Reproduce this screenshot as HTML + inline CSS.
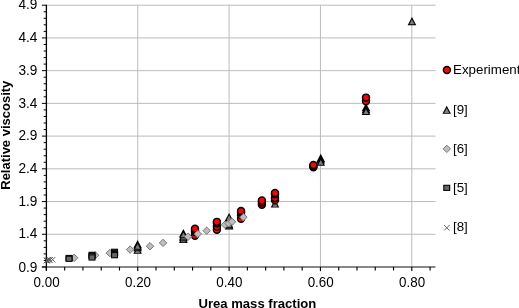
<!DOCTYPE html><html><head><meta charset="utf-8"><title>chart</title>
<style>html,body{margin:0;padding:0;background:#fff;overflow:hidden;width:519px;height:308px}svg{display:block}text{font-family:"Liberation Sans",sans-serif;fill:#000}</style></head><body>
<svg width="519" height="308" viewBox="0 0 519 308">
<rect width="519" height="308" fill="#fff"/>
<line x1="46.4" x2="435.5" y1="5.20" y2="5.20" stroke="#bcbcbc" stroke-width="1"/>
<line x1="46.4" x2="435.5" y1="37.93" y2="37.93" stroke="#bcbcbc" stroke-width="1"/>
<line x1="46.4" x2="435.5" y1="70.65" y2="70.65" stroke="#bcbcbc" stroke-width="1"/>
<line x1="46.4" x2="435.5" y1="103.38" y2="103.38" stroke="#bcbcbc" stroke-width="1"/>
<line x1="46.4" x2="435.5" y1="136.10" y2="136.10" stroke="#bcbcbc" stroke-width="1"/>
<line x1="46.4" x2="435.5" y1="168.82" y2="168.82" stroke="#bcbcbc" stroke-width="1"/>
<line x1="46.4" x2="435.5" y1="201.55" y2="201.55" stroke="#bcbcbc" stroke-width="1"/>
<line x1="46.4" x2="435.5" y1="234.28" y2="234.28" stroke="#bcbcbc" stroke-width="1"/>
<line x1="137.75" x2="137.75" y1="5.2" y2="267.0" stroke="#bcbcbc" stroke-width="1"/>
<line x1="229.10" x2="229.10" y1="5.2" y2="267.0" stroke="#bcbcbc" stroke-width="1"/>
<line x1="320.45" x2="320.45" y1="5.2" y2="267.0" stroke="#bcbcbc" stroke-width="1"/>
<line x1="411.80" x2="411.80" y1="5.2" y2="267.0" stroke="#bcbcbc" stroke-width="1"/>
<line x1="46.4" x2="46.4" y1="4.7" y2="270.5" stroke="#000" stroke-width="1.3"/>
<line x1="41.9" x2="435.5" y1="267.0" y2="267.0" stroke="#111" stroke-width="1.1"/>
<line x1="41.9" x2="46.4" y1="5.20" y2="5.20" stroke="#000" stroke-width="1"/>
<line x1="43.699999999999996" x2="46.4" y1="11.75" y2="11.75" stroke="#000" stroke-width="1"/>
<line x1="43.699999999999996" x2="46.4" y1="18.29" y2="18.29" stroke="#000" stroke-width="1"/>
<line x1="43.699999999999996" x2="46.4" y1="24.84" y2="24.84" stroke="#000" stroke-width="1"/>
<line x1="43.699999999999996" x2="46.4" y1="31.38" y2="31.38" stroke="#000" stroke-width="1"/>
<line x1="41.9" x2="46.4" y1="37.93" y2="37.93" stroke="#000" stroke-width="1"/>
<line x1="43.699999999999996" x2="46.4" y1="44.47" y2="44.47" stroke="#000" stroke-width="1"/>
<line x1="43.699999999999996" x2="46.4" y1="51.02" y2="51.02" stroke="#000" stroke-width="1"/>
<line x1="43.699999999999996" x2="46.4" y1="57.56" y2="57.56" stroke="#000" stroke-width="1"/>
<line x1="43.699999999999996" x2="46.4" y1="64.11" y2="64.11" stroke="#000" stroke-width="1"/>
<line x1="41.9" x2="46.4" y1="70.65" y2="70.65" stroke="#000" stroke-width="1"/>
<line x1="43.699999999999996" x2="46.4" y1="77.20" y2="77.20" stroke="#000" stroke-width="1"/>
<line x1="43.699999999999996" x2="46.4" y1="83.74" y2="83.74" stroke="#000" stroke-width="1"/>
<line x1="43.699999999999996" x2="46.4" y1="90.29" y2="90.29" stroke="#000" stroke-width="1"/>
<line x1="43.699999999999996" x2="46.4" y1="96.83" y2="96.83" stroke="#000" stroke-width="1"/>
<line x1="41.9" x2="46.4" y1="103.38" y2="103.38" stroke="#000" stroke-width="1"/>
<line x1="43.699999999999996" x2="46.4" y1="109.92" y2="109.92" stroke="#000" stroke-width="1"/>
<line x1="43.699999999999996" x2="46.4" y1="116.47" y2="116.47" stroke="#000" stroke-width="1"/>
<line x1="43.699999999999996" x2="46.4" y1="123.01" y2="123.01" stroke="#000" stroke-width="1"/>
<line x1="43.699999999999996" x2="46.4" y1="129.55" y2="129.55" stroke="#000" stroke-width="1"/>
<line x1="41.9" x2="46.4" y1="136.10" y2="136.10" stroke="#000" stroke-width="1"/>
<line x1="43.699999999999996" x2="46.4" y1="142.64" y2="142.64" stroke="#000" stroke-width="1"/>
<line x1="43.699999999999996" x2="46.4" y1="149.19" y2="149.19" stroke="#000" stroke-width="1"/>
<line x1="43.699999999999996" x2="46.4" y1="155.74" y2="155.74" stroke="#000" stroke-width="1"/>
<line x1="43.699999999999996" x2="46.4" y1="162.28" y2="162.28" stroke="#000" stroke-width="1"/>
<line x1="41.9" x2="46.4" y1="168.82" y2="168.82" stroke="#000" stroke-width="1"/>
<line x1="43.699999999999996" x2="46.4" y1="175.37" y2="175.37" stroke="#000" stroke-width="1"/>
<line x1="43.699999999999996" x2="46.4" y1="181.91" y2="181.91" stroke="#000" stroke-width="1"/>
<line x1="43.699999999999996" x2="46.4" y1="188.46" y2="188.46" stroke="#000" stroke-width="1"/>
<line x1="43.699999999999996" x2="46.4" y1="195.00" y2="195.00" stroke="#000" stroke-width="1"/>
<line x1="41.9" x2="46.4" y1="201.55" y2="201.55" stroke="#000" stroke-width="1"/>
<line x1="43.699999999999996" x2="46.4" y1="208.09" y2="208.09" stroke="#000" stroke-width="1"/>
<line x1="43.699999999999996" x2="46.4" y1="214.64" y2="214.64" stroke="#000" stroke-width="1"/>
<line x1="43.699999999999996" x2="46.4" y1="221.18" y2="221.18" stroke="#000" stroke-width="1"/>
<line x1="43.699999999999996" x2="46.4" y1="227.73" y2="227.73" stroke="#000" stroke-width="1"/>
<line x1="41.9" x2="46.4" y1="234.27" y2="234.27" stroke="#000" stroke-width="1"/>
<line x1="43.699999999999996" x2="46.4" y1="240.82" y2="240.82" stroke="#000" stroke-width="1"/>
<line x1="43.699999999999996" x2="46.4" y1="247.37" y2="247.37" stroke="#000" stroke-width="1"/>
<line x1="43.699999999999996" x2="46.4" y1="253.91" y2="253.91" stroke="#000" stroke-width="1"/>
<line x1="43.699999999999996" x2="46.4" y1="260.46" y2="260.46" stroke="#000" stroke-width="1"/>
<line x1="41.9" x2="46.4" y1="267.00" y2="267.00" stroke="#000" stroke-width="1"/>
<line x1="46.40" x2="46.40" y1="267.0" y2="271.1" stroke="#000" stroke-width="1.15"/>
<line x1="64.67" x2="64.67" y1="267.0" y2="270.5" stroke="#000" stroke-width="1.15"/>
<line x1="82.94" x2="82.94" y1="267.0" y2="270.5" stroke="#000" stroke-width="1.15"/>
<line x1="101.21" x2="101.21" y1="267.0" y2="270.5" stroke="#000" stroke-width="1.15"/>
<line x1="119.48" x2="119.48" y1="267.0" y2="270.5" stroke="#000" stroke-width="1.15"/>
<line x1="137.75" x2="137.75" y1="267.0" y2="271.1" stroke="#000" stroke-width="1.15"/>
<line x1="156.02" x2="156.02" y1="267.0" y2="270.5" stroke="#000" stroke-width="1.15"/>
<line x1="174.29" x2="174.29" y1="267.0" y2="270.5" stroke="#000" stroke-width="1.15"/>
<line x1="192.56" x2="192.56" y1="267.0" y2="270.5" stroke="#000" stroke-width="1.15"/>
<line x1="210.83" x2="210.83" y1="267.0" y2="270.5" stroke="#000" stroke-width="1.15"/>
<line x1="229.10" x2="229.10" y1="267.0" y2="271.1" stroke="#000" stroke-width="1.15"/>
<line x1="247.37" x2="247.37" y1="267.0" y2="270.5" stroke="#000" stroke-width="1.15"/>
<line x1="265.64" x2="265.64" y1="267.0" y2="270.5" stroke="#000" stroke-width="1.15"/>
<line x1="283.91" x2="283.91" y1="267.0" y2="270.5" stroke="#000" stroke-width="1.15"/>
<line x1="302.18" x2="302.18" y1="267.0" y2="270.5" stroke="#000" stroke-width="1.15"/>
<line x1="320.45" x2="320.45" y1="267.0" y2="271.1" stroke="#000" stroke-width="1.15"/>
<line x1="338.72" x2="338.72" y1="267.0" y2="270.5" stroke="#000" stroke-width="1.15"/>
<line x1="356.99" x2="356.99" y1="267.0" y2="270.5" stroke="#000" stroke-width="1.15"/>
<line x1="375.26" x2="375.26" y1="267.0" y2="270.5" stroke="#000" stroke-width="1.15"/>
<line x1="393.53" x2="393.53" y1="267.0" y2="270.5" stroke="#000" stroke-width="1.15"/>
<line x1="411.80" x2="411.80" y1="267.0" y2="271.1" stroke="#000" stroke-width="1.15"/>
<line x1="430.07" x2="430.07" y1="267.0" y2="270.5" stroke="#000" stroke-width="1.15"/>
<text transform="translate(37.4,9.45) scale(0.96,1)" font-size="14.2" text-anchor="end">4.9</text>
<text transform="translate(37.4,41.98) scale(0.96,1)" font-size="14.2" text-anchor="end">4.4</text>
<text transform="translate(37.4,75.25) scale(0.96,1)" font-size="14.2" text-anchor="end">3.9</text>
<text transform="translate(37.4,107.75) scale(0.96,1)" font-size="14.2" text-anchor="end">3.4</text>
<text transform="translate(37.4,140.10) scale(0.96,1)" font-size="14.2" text-anchor="end">2.9</text>
<text transform="translate(37.4,173.36) scale(0.96,1)" font-size="14.2" text-anchor="end">2.4</text>
<text transform="translate(37.4,206.10) scale(0.96,1)" font-size="14.2" text-anchor="end">1.9</text>
<text transform="translate(37.4,238.41) scale(0.96,1)" font-size="14.2" text-anchor="end">1.4</text>
<text transform="translate(37.4,271.70) scale(0.96,1)" font-size="14.2" text-anchor="end">0.9</text>
<text transform="translate(46.65,286.65) scale(0.975,1)" font-size="13.75" text-anchor="middle">0.00</text>
<text transform="translate(138.00,286.65) scale(0.975,1)" font-size="13.75" text-anchor="middle">0.20</text>
<text transform="translate(229.35,286.65) scale(0.975,1)" font-size="13.75" text-anchor="middle">0.40</text>
<text transform="translate(320.70,286.65) scale(0.975,1)" font-size="13.75" text-anchor="middle">0.60</text>
<text transform="translate(412.05,286.65) scale(0.975,1)" font-size="13.75" text-anchor="middle">0.80</text>
<text x="257.4" y="307.5" font-size="13.1" font-weight="bold" text-anchor="middle">Urea mass fraction</text>
<text transform="translate(9.7,135.2) rotate(-90)" font-size="13" font-weight="bold" text-anchor="middle">Relative viscosity</text>
<path d="M137.60 245.70L141.90 253.80L133.30 253.80Z" fill="#000"/><path d="M137.60 248.06L140.17 252.90L135.03 252.90Z" fill="#7c7c7c"/>
<path d="M137.60 243.15L141.90 251.25L133.30 251.25Z" fill="#000"/><path d="M137.60 245.51L140.17 250.35L135.03 250.35Z" fill="#7c7c7c"/>
<path d="M137.60 240.05L141.90 248.15L133.30 248.15Z" fill="#000"/><path d="M137.60 242.41L140.17 247.25L135.03 247.25Z" fill="#7c7c7c"/>
<path d="M137.60 241.60L141.90 249.70L133.30 249.70Z" fill="#000"/><path d="M137.60 243.96L140.17 248.80L135.03 248.80Z" fill="#7c7c7c"/>
<path d="M183.40 234.95L187.70 243.05L179.10 243.05Z" fill="#000"/><path d="M183.40 237.31L185.97 242.15L180.83 242.15Z" fill="#7c7c7c"/>
<path d="M183.40 233.25L187.70 241.35L179.10 241.35Z" fill="#000"/><path d="M183.40 235.61L185.97 240.45L180.83 240.45Z" fill="#7c7c7c"/>
<path d="M183.40 232.20L187.70 240.30L179.10 240.30Z" fill="#000"/><path d="M183.40 234.56L185.97 239.40L180.83 239.40Z" fill="#7c7c7c"/>
<path d="M183.40 229.05L187.70 237.15L179.10 237.15Z" fill="#000"/><path d="M183.40 231.41L185.97 236.25L180.83 236.25Z" fill="#7c7c7c"/>
<path d="M183.40 230.05L187.70 238.15L179.10 238.15Z" fill="#000"/><path d="M183.40 232.41L185.97 237.25L180.83 237.25Z" fill="#7c7c7c"/>
<path d="M229.10 221.30L233.40 229.40L224.80 229.40Z" fill="#000"/><path d="M229.10 223.66L231.67 228.50L226.53 228.50Z" fill="#7c7c7c"/>
<path d="M229.10 220.10L233.40 228.20L224.80 228.20Z" fill="#000"/><path d="M229.10 222.46L231.67 227.30L226.53 227.30Z" fill="#7c7c7c"/>
<path d="M229.10 216.45L233.40 224.55L224.80 224.55Z" fill="#000"/><path d="M229.10 218.81L231.67 223.65L226.53 223.65Z" fill="#7c7c7c"/>
<path d="M229.10 213.00L233.40 221.10L224.80 221.10Z" fill="#000"/><path d="M229.10 215.36L231.67 220.20L226.53 220.20Z" fill="#7c7c7c"/>
<path d="M275.00 199.50L279.30 207.60L270.70 207.60Z" fill="#000"/><path d="M275.00 201.86L277.57 206.70L272.43 206.70Z" fill="#7c7c7c"/>
<path d="M320.75 153.80L325.05 161.90L316.45 161.90Z" fill="#000"/>
<path d="M320.75 155.45L325.05 163.55L316.45 163.55Z" fill="#000"/>
<path d="M320.75 157.55L325.05 165.65L316.45 165.65Z" fill="#000"/><path d="M320.75 159.91L323.32 164.75L318.18 164.75Z" fill="#7c7c7c"/>
<path d="M366.00 103.25L370.30 111.35L361.70 111.35Z" fill="#000"/>
<path d="M366.00 105.05L370.30 113.15L361.70 113.15Z" fill="#000"/>
<path d="M366.00 106.85L370.30 114.95L361.70 114.95Z" fill="#000"/><path d="M366.00 109.21L368.57 114.05L363.43 114.05Z" fill="#7c7c7c"/>
<path d="M411.95 17.10L416.25 25.20L407.65 25.20Z" fill="#000"/><path d="M411.95 19.46L414.52 24.30L409.38 24.30Z" fill="#7c7c7c"/>
<circle cx="195.00" cy="235.70" r="3.5" fill="#ff0000" stroke="#000" stroke-width="1.45"/>
<circle cx="195.00" cy="232.00" r="3.5" fill="#ff0000" stroke="#000" stroke-width="1.45"/>
<circle cx="195.00" cy="230.40" r="3.5" fill="#ff0000" stroke="#000" stroke-width="1.45"/>
<circle cx="195.00" cy="228.80" r="3.5" fill="#ff0000" stroke="#000" stroke-width="1.45"/>
<circle cx="216.90" cy="229.75" r="3.5" fill="#ff0000" stroke="#000" stroke-width="1.45"/>
<circle cx="216.90" cy="226.55" r="3.5" fill="#ff0000" stroke="#000" stroke-width="1.45"/>
<circle cx="216.90" cy="223.30" r="3.5" fill="#ff0000" stroke="#000" stroke-width="1.45"/>
<circle cx="216.90" cy="221.85" r="3.5" fill="#ff0000" stroke="#000" stroke-width="1.45"/>
<circle cx="241.05" cy="218.65" r="3.5" fill="#ff0000" stroke="#000" stroke-width="1.45"/>
<circle cx="241.05" cy="215.00" r="3.5" fill="#ff0000" stroke="#000" stroke-width="1.45"/>
<circle cx="241.05" cy="212.60" r="3.5" fill="#ff0000" stroke="#000" stroke-width="1.45"/>
<circle cx="241.05" cy="211.00" r="3.5" fill="#ff0000" stroke="#000" stroke-width="1.45"/>
<circle cx="261.90" cy="204.80" r="3.5" fill="#ff0000" stroke="#000" stroke-width="1.45"/>
<circle cx="261.90" cy="202.45" r="3.5" fill="#ff0000" stroke="#000" stroke-width="1.45"/>
<circle cx="261.90" cy="200.50" r="3.5" fill="#ff0000" stroke="#000" stroke-width="1.45"/>
<circle cx="275.00" cy="200.20" r="3.5" fill="#ff0000" stroke="#000" stroke-width="1.45"/>
<circle cx="275.00" cy="197.90" r="3.5" fill="#ff0000" stroke="#000" stroke-width="1.45"/>
<circle cx="275.00" cy="194.30" r="3.5" fill="#ff0000" stroke="#000" stroke-width="1.45"/>
<circle cx="275.00" cy="192.90" r="3.5" fill="#ff0000" stroke="#000" stroke-width="1.45"/>
<circle cx="313.40" cy="167.30" r="3.5" fill="#ff0000" stroke="#000" stroke-width="1.45"/>
<circle cx="313.40" cy="166.20" r="3.5" fill="#ff0000" stroke="#000" stroke-width="1.45"/>
<circle cx="313.40" cy="165.05" r="3.5" fill="#ff0000" stroke="#000" stroke-width="1.45"/>
<circle cx="366.00" cy="101.15" r="3.5" fill="#ff0000" stroke="#000" stroke-width="1.45"/>
<circle cx="366.00" cy="97.60" r="3.5" fill="#ff0000" stroke="#000" stroke-width="1.45"/>
<path d="M74.20 254.10L77.90 257.80L74.20 261.50L70.50 257.80Z" fill="#bdbdbd" stroke="#787878" stroke-width="1"/>
<path d="M95.15 251.55L98.85 255.25L95.15 258.95L91.45 255.25Z" fill="#bdbdbd" stroke="#787878" stroke-width="1"/>
<path d="M109.80 249.35L113.50 253.05L109.80 256.75L106.10 253.05Z" fill="#bdbdbd" stroke="#787878" stroke-width="1"/>
<path d="M130.10 245.90L133.80 249.60L130.10 253.30L126.40 249.60Z" fill="#bdbdbd" stroke="#787878" stroke-width="1"/>
<path d="M150.00 242.50L153.70 246.20L150.00 249.90L146.30 246.20Z" fill="#bdbdbd" stroke="#787878" stroke-width="1"/>
<path d="M163.05 239.20L166.75 242.90L163.05 246.60L159.35 242.90Z" fill="#bdbdbd" stroke="#787878" stroke-width="1"/>
<path d="M188.10 233.00L191.80 236.70L188.10 240.40L184.40 236.70Z" fill="#bdbdbd" stroke="#787878" stroke-width="1"/>
<path d="M197.80 230.20L201.50 233.90L197.80 237.60L194.10 233.90Z" fill="#bdbdbd" stroke="#787878" stroke-width="1"/>
<path d="M206.70 227.00L210.40 230.70L206.70 234.40L203.00 230.70Z" fill="#bdbdbd" stroke="#787878" stroke-width="1"/>
<path d="M225.00 221.00L228.70 224.70L225.00 228.40L221.30 224.70Z" fill="#bdbdbd" stroke="#787878" stroke-width="1"/>
<path d="M228.60 219.70L232.30 223.40L228.60 227.10L224.90 223.40Z" fill="#bdbdbd" stroke="#787878" stroke-width="1"/>
<path d="M232.05 218.10L235.75 221.80L232.05 225.50L228.35 221.80Z" fill="#bdbdbd" stroke="#787878" stroke-width="1"/>
<path d="M243.40 213.50L247.10 217.20L243.40 220.90L239.70 217.20Z" fill="#bdbdbd" stroke="#787878" stroke-width="1"/>
<rect x="65.55" y="254.90" width="7" height="6.2" fill="#000"/><rect x="66.65" y="255.90" width="4.8" height="4.2" fill="#666666"/>
<rect x="65.55" y="255.70" width="7" height="6.2" fill="#000"/><rect x="66.65" y="256.70" width="4.8" height="4.2" fill="#666666"/>
<rect x="88.50" y="251.75" width="7" height="6.2" fill="#000"/><rect x="89.60" y="252.75" width="4.8" height="4.2" fill="#666666"/>
<rect x="88.50" y="252.90" width="7" height="6.2" fill="#000"/><rect x="89.60" y="253.90" width="4.8" height="4.2" fill="#666666"/>
<rect x="88.50" y="254.40" width="7" height="6.2" fill="#000"/><rect x="89.60" y="255.40" width="4.8" height="4.2" fill="#666666"/>
<rect x="111.05" y="248.70" width="7" height="6.2" fill="#000"/><rect x="112.15" y="249.70" width="4.8" height="4.2" fill="#666666"/>
<rect x="111.05" y="249.80" width="7" height="6.2" fill="#000"/><rect x="112.15" y="250.80" width="4.8" height="4.2" fill="#666666"/>
<rect x="111.05" y="250.90" width="7" height="6.2" fill="#000"/><rect x="112.15" y="251.90" width="4.8" height="4.2" fill="#666666"/>
<rect x="111.05" y="252.10" width="7" height="6.2" fill="#000"/><rect x="112.15" y="253.10" width="4.8" height="4.2" fill="#666666"/>
<path d="M43.75 257.75L49.25 263.25M43.75 263.25L49.25 257.75" fill="none" stroke="#555" stroke-width="0.9"/>
<path d="M44.15 257.70L49.65 263.20M44.15 263.20L49.65 257.70" fill="none" stroke="#555" stroke-width="0.9"/>
<path d="M44.75 257.55L50.25 263.05M44.75 263.05L50.25 257.55" fill="none" stroke="#555" stroke-width="0.9"/>
<path d="M45.95 257.25L51.45 262.75M45.95 262.75L51.45 257.25" fill="none" stroke="#555" stroke-width="0.9"/>
<path d="M47.25 257.15L52.75 262.65M47.25 262.65L52.75 257.15" fill="none" stroke="#555" stroke-width="0.9"/>
<path d="M49.85 256.95L55.35 262.45M49.85 262.45L55.35 256.95" fill="none" stroke="#555" stroke-width="0.9"/>
<circle cx="446.90" cy="69.90" r="3.5" fill="#ff0000" stroke="#000" stroke-width="1.45"/>
<text x="453" y="74.2" font-size="13.33">Experiment</text>
<path d="M446.70 105.70L451.00 113.80L442.40 113.80Z" fill="#000"/><path d="M446.70 108.06L449.27 112.90L444.13 112.90Z" fill="#7c7c7c"/>
<text x="453" y="113.8" font-size="13.33">[9]</text>
<path d="M446.85 145.15L450.55 148.85L446.85 152.55L443.15 148.85Z" fill="#bdbdbd" stroke="#787878" stroke-width="1"/>
<text x="453" y="153.0" font-size="13.33">[6]</text>
<rect x="443.25" y="184.75" width="7" height="6.2" fill="#000"/><rect x="444.35" y="185.75" width="4.8" height="4.2" fill="#666666"/>
<text x="453" y="192.2" font-size="13.33">[5]</text>
<path d="M444.05 225.05L449.55 230.55M444.05 230.55L449.55 225.05" fill="none" stroke="#555" stroke-width="0.9"/>
<text x="453" y="231.3" font-size="13.33">[8]</text>
</svg></body></html>
